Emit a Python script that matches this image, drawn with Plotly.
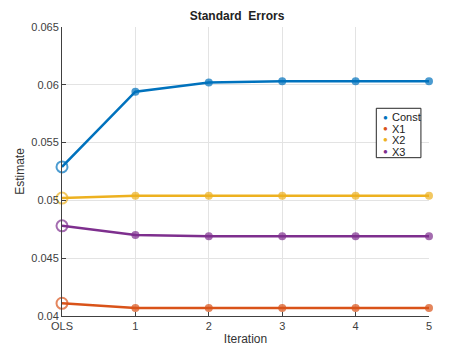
import plotly.graph_objects as go

iterations = [0, 1, 2, 3, 4, 5]
tick_labels = ["OLS", "1", "2", "3", "4", "5"]
series_names = ["Const", "X1", "X2", "X3"]
const_vals = [0.0529, 0.0594, 0.0602, 0.0603, 0.0603, 0.0603]
x1_vals = [0.0411, 0.0407, 0.0407, 0.0407, 0.0407, 0.0407]
x2_vals = [0.0502, 0.0504, 0.0504, 0.0504, 0.0504, 0.0504]
x3_vals = [0.0478, 0.0470, 0.0469, 0.0469, 0.0469, 0.0469]
colors = ["#0072BD", "#D95319", "#EDB120", "#7E2F8E"]

fig = go.Figure()
all_vals = [const_vals, x1_vals, x2_vals, x3_vals]
for name, vals, c in zip(series_names, all_vals, colors):
    fig.add_trace(go.Scatter(
        x=iterations, y=vals, mode="lines+markers", name=name, showlegend=False,
        line=dict(color=c, width=2.5), cliponaxis=False,
        marker=dict(color=c, symbol=["circle-open"] + ["circle"] * 5,
                    size=[11] + [6] * 5, line=dict(color=c, width=2)),
    ))

# compact MATLAB-style legend (box + entries in paper coordinates)
leg_x0, leg_x1, leg_y0, leg_y1 = 0.8564, 0.978, 0.5478, 0.7187
row_y = [0.6875, 0.6471, 0.609, 0.5685]
fig.add_shape(type="rect", xref="paper", yref="paper",
              x0=leg_x0, x1=leg_x1, y0=leg_y0, y1=leg_y1,
              line=dict(color="#262626", width=1), fillcolor="white", layer="above")
for name, c, ry in zip(series_names, colors, row_y):
    fig.add_annotation(xref="paper", yref="paper", x=0.8809, y=ry, text="●",
                       showarrow=False, xanchor="center", yanchor="middle",
                       font=dict(size=8, color=c))
    fig.add_annotation(xref="paper", yref="paper", x=0.8937, y=ry, text=name,
                       showarrow=False, xanchor="left", yanchor="middle",
                       font=dict(size=11, color="#222222"))

axis_common = dict(
    showgrid=True, gridcolor="#e3e3e3", gridwidth=1,
    showline=True, linecolor="#404040", linewidth=1,
    ticks="inside", ticklen=4, tickcolor="#404040",
    zeroline=False, tickfont=dict(size=11, color="#404040"),
    automargin=False,
)
fig.update_xaxes(range=[0, 5], tickvals=iterations, ticktext=tick_labels,
                 title=dict(text="Iteration", font=dict(size=12, color="#333333"), standoff=3),
                 **axis_common)
fig.update_yaxes(range=[0.04, 0.065], tickvals=[0.04, 0.045, 0.05, 0.055, 0.06, 0.065],
                 ticktext=["0.04", "0.045", "0.05", "0.055", "0.06", "0.065"],
                 title=dict(text="Estimate", font=dict(size=12, color="#333333"), standoff=4),
                 **axis_common)
fig.update_layout(
    width=474, height=355,
    margin=dict(l=62, r=45, t=27, b=39),
    paper_bgcolor="white", plot_bgcolor="white",
    showlegend=False,
    font=dict(family="Liberation Sans, Arial, sans-serif"),
    title=dict(text="<b>Standard  Errors</b>", x=0.5, xanchor="center",
               y=0.955, yanchor="middle", font=dict(size=12, color="#222222")),
)
fig.write_html("out.html")
